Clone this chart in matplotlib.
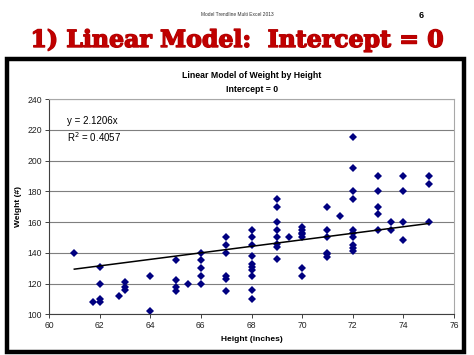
import matplotlib
matplotlib.use("Agg")
import matplotlib.pyplot as plt
import matplotlib.patheffects as pe
from matplotlib.patches import Rectangle

# heights (inches) and the weights recorded at each height
heights = [61, 61.75, 62, 62.75, 63, 64, 65, 65.5, 66, 67, 68, 69, 69.5,
           70, 71, 71.5, 72, 73, 73.5, 74, 75]
weights = [
    [140],
    [108],
    [131, 120, 110, 108],
    [112],
    [121, 118, 116],
    [125, 102],
    [135, 122, 118, 115],
    [120],
    [140, 135, 130, 125, 120],
    [150, 145, 140, 125, 123, 115],
    [155, 150, 145, 138, 133, 131, 129, 125, 116, 110],
    [175, 170, 160, 155, 150, 146, 144, 136],
    [150],
    [157, 155, 153, 152, 150, 130, 125],
    [170, 155, 150, 140, 139, 137],
    [164],
    [215, 195, 180, 175, 155, 153, 150, 145, 143, 141],
    [190, 180, 170, 165, 155],
    [160, 155],
    [190, 180, 160, 148],
    [190, 185, 160],
]
slope = 2.1206
r_squared = 0.4057

x_ticks = list(range(60, 77, 2))
y_ticks = list(range(100, 241, 20))

xs = [h for h, ws in zip(heights, weights) for w in ws]
ys = [w for ws in weights for w in ws]

plt.rcParams['font.family'] = ['Liberation Sans', 'DejaVu Sans']

fig = plt.figure(figsize=(4.74, 3.55), dpi=100)

# slide header
fig.text(0.5, 1 - 14 / 355, "Model Trendline Multi Excel 2013", ha='center',
         va='center', fontsize=3.5, color='#333333')
fig.text(421 / 474, 1 - 16 / 355, "6", ha='center', va='center',
         fontsize=6.5, fontweight='bold')
fig.text(0.5, 1 - 40 / 355, "1) Linear Model:  Intercept = 0", ha='center',
         va='center', fontsize=17, fontweight='bold', color='#c00000',
         family=['DejaVu Serif'],
         path_effects=[pe.withStroke(linewidth=1.0, foreground='#b00000')])

# black frame round the chart
fig.patches.append(Rectangle((7 / 474, 1 - 352 / 355), 457 / 474, 293 / 355,
                             transform=fig.transFigure, fill=False,
                             edgecolor='black', linewidth=3.2))

ax = fig.add_axes([49 / 474, 1 - 314.3 / 355, 405 / 474, 215.3 / 355])
ax.set_xlim(60, 76)
ax.set_ylim(100, 240)
ax.set_xticks(x_ticks)
ax.set_yticks(y_ticks)
ax.tick_params(labelsize=6.2, length=3, width=0.7, color='#404040',
               labelcolor='#222222', pad=2)
ax.yaxis.grid(True, color='#7f7f7f', linewidth=0.8)
ax.set_axisbelow(True)
for side in ['top', 'right']:
    ax.spines[side].set_color('#a8a8a8')
    ax.spines[side].set_linewidth(0.8)
for side in ['left', 'bottom']:
    ax.spines[side].set_color('#404040')
    ax.spines[side].set_linewidth(0.8)

ax.plot(xs, ys, 'D', color='#000080', markersize=3.6, markeredgewidth=0)

trend_x = [min(heights), max(heights)]
ax.plot(trend_x, [slope * x for x in trend_x], color='black', linewidth=1.1)

ax.text(60.71, 225.5, "y = %.4fx" % slope, fontsize=7, va='center')
ax.text(60.71, 215.2, "R$^2$ = %.4f" % r_squared, fontsize=7, va='center')

fig.text(0.5309, 1 - 76 / 355, "Linear Model of Weight by Height",
         ha='center', va='center', fontsize=6.3, fontweight='bold')
fig.text(0.5309, 1 - 89 / 355, "Intercept = 0",
         ha='center', va='center', fontsize=6.3, fontweight='bold')

ax.set_xlabel("Height (inches)", fontsize=6, fontweight='bold', labelpad=4)
ax.set_ylabel("Weight (#)", fontsize=6, fontweight='bold', labelpad=4)

fig.savefig("out.png", dpi=100)
